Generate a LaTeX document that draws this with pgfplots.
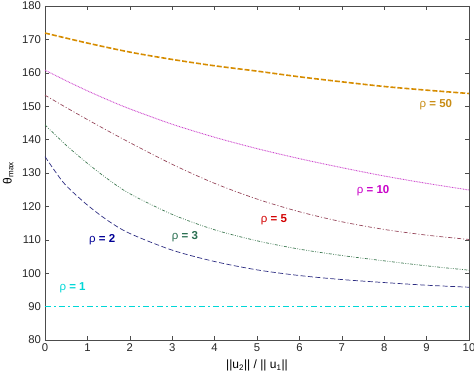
\documentclass[border=0pt]{standalone}
\usepackage{pgfplots}
\pgfplotsset{compat=1.18}
\usepackage{fontspec}
\setmainfont{Liberation Sans}
\definecolor{c50}{RGB}{214,140,0}
\definecolor{c10}{RGB}{205,70,205}
\definecolor{c5}{RGB}{150,70,90}
\definecolor{c3}{RGB}{60,120,80}
\definecolor{c2}{RGB}{45,45,130}
\definecolor{c1}{RGB}{0,215,215}
\definecolor{l50}{RGB}{200,140,20}
\definecolor{l10}{RGB}{200,0,200}
\definecolor{l5}{RGB}{210,0,0}
\definecolor{l3}{RGB}{40,110,80}
\definecolor{l2}{RGB}{0,0,150}
\begin{document}
\begin{tikzpicture}
\begin{axis}[
  scale only axis,
  width=424pt, height=334pt,
  xmin=0, xmax=10, ymin=80, ymax=180,
  xtick={0,1,...,10}, ytick={80,90,...,180},
  tick align=inside,
  major tick length=4pt,
  axis line style={black!70, line width=0.6pt},
  tick style={black!70, line width=0.5pt},
  /pgf/number format/assume math mode=true,
  ticklabel style={font=\fontsize{11.3}{13}\selectfont, text=black!85},
  xticklabel style={yshift=-0.5pt},
  yticklabel style={xshift=-0.5pt},
  xlabel={||u\textsubscript{2}|| / || u\textsubscript{1}||},
  xlabel style={font=\fontsize{12}{14}\selectfont, at={(axis description cs:0.5,0)}, anchor=north, yshift=-16pt},
  ylabel={θ\textsubscript{max}},
  ylabel style={font=\fontsize{12}{14}\selectfont, at={(axis description cs:-0.087,0.5)}, anchor=center},
  clip=true,
]
\addplot[c50, line width=1.6pt, dash pattern=on 5pt off 2pt, smooth] coordinates {
(0,171.9) (1,168.9) (2,166.2) (3,164.0) (4,162.1) (5,160.5) (6,158.8) (7,157.3) (8,155.9) (9,154.8) (10,153.8)};
\addplot[c10, line width=0.9pt, dash pattern=on 0.8pt off 0.8pt, smooth] coordinates {
(0,160.8) (0.5,157.6) (1,154.6) (1.5,151.8) (2,149.2) (3,144.6) (4,140.7) (5,137.3) (6,134.3) (7,131.6) (8,129.1) (9,126.9) (10,124.9)};
\addplot[c5, line width=0.7pt, dash pattern=on 4pt off 2pt on 1pt off 2pt, smooth] coordinates {
(0,153.3) (0.5,149.6) (1,146.0) (1.5,142.5) (2,139.1) (3,132.6) (4,126.9) (5,122.2) (6,118.4) (7,115.4) (8,113.1) (9,111.4) (10,110.1)};
\addplot[c3, line width=0.7pt, dash pattern=on 3pt off 1.5pt on 0.8pt off 1.5pt on 0.8pt off 1.5pt, smooth] coordinates {
(0,144.4) (0.5,138.3) (1,132.9) (1.5,128.0) (2,123.8) (3,117.6) (4,113.0) (5,109.7) (6,107.2) (7,105.3) (8,103.7) (9,102.2) (10,100.9)};
\addplot[c2, line width=0.7pt, dash pattern=on 5pt off 2.5pt, smooth] coordinates {
(0,134.9) (0.25,130.3) (0.5,126.2) (1,120.4) (1.5,115.6) (2,111.9) (3,106.9) (4,103.5) (5,101.0) (6,99.3) (7,98.1) (8,97.2) (9,96.4) (10,95.8)};
\addplot[c1, line width=1.5pt, dash pattern=on 6pt off 3pt on 2pt off 3pt] coordinates {
(0,90) (10,90)};
\node[text=l50, font=\fontsize{11.5}{13}\selectfont] at (axis cs:9.22,150.4) {ρ \textbf{= 50}};
\node[text=l10, font=\fontsize{11.5}{13}\selectfont] at (axis cs:7.74,124.6) {ρ \textbf{= 10}};
\node[text=l5, font=\fontsize{11.5}{13}\selectfont] at (axis cs:5.4,115.9) {ρ \textbf{= 5}};
\node[text=l3, font=\fontsize{11.5}{13}\selectfont] at (axis cs:3.3,110.8) {ρ \textbf{= 3}};
\node[text=l2, font=\fontsize{11.5}{13}\selectfont] at (axis cs:1.35,110.0) {ρ \textbf{= 2}};
\node[text=c1, font=\fontsize{11.5}{13}\selectfont] at (axis cs:0.65,95.6) {ρ \textbf{= 1}};
\end{axis}
\pgfresetboundingbox
\useasboundingbox ([shift={(-45pt,-34pt)}]current axis.south west) rectangle ([shift={(5pt,6pt)}]current axis.north east);
\end{tikzpicture}
\end{document}
